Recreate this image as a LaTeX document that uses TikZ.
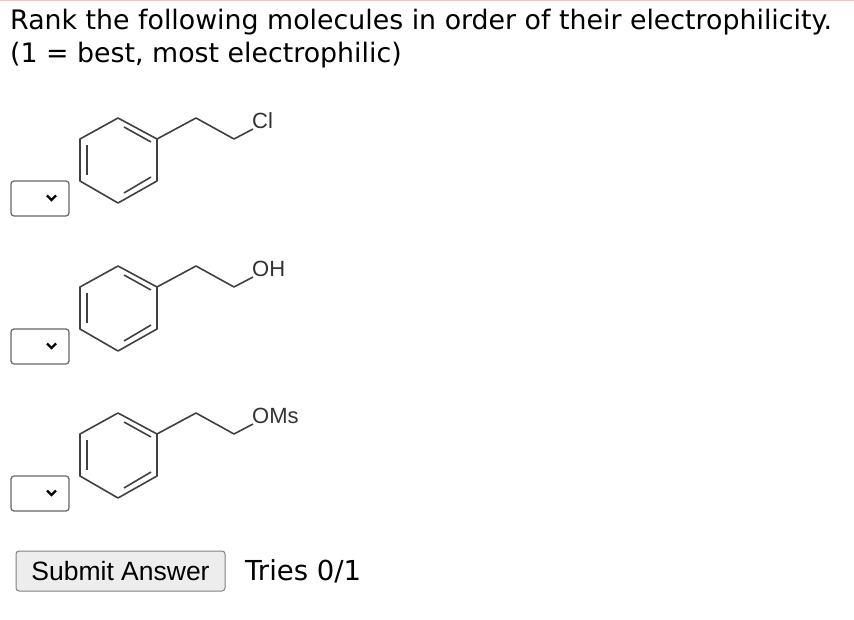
\documentclass[tikz,border=0pt]{standalone}
\usepackage{fontspec}
\setmainfont{Liberation Sans}
\newfontfamily\vfont{DejaVu Sans}
\begin{document}
\begin{tikzpicture}[x=1pt,y=-1pt,
  bond/.style={draw=black!75,line width=1.6pt,line join=round},
  dd/.style={draw=black!60,rounded corners=3pt,line width=1.2pt,minimum width=58pt,minimum height=35pt,inner sep=0pt},
  lbl/.style={font=\fontsize{22}{22}\selectfont,inner sep=0pt,anchor=west,text=black!80}]
\useasboundingbox (0,0) rectangle (854,620);
\draw[red!25,line width=1pt] (0,1) -- (854,1);
\node[anchor=base west,inner sep=0pt,font=\vfont\fontsize{26.8}{26.8}\selectfont] (q1) at (10,30) {Rank the following molecules in order of their electrophilicity.};
\node[anchor=base west,inner sep=0pt,font=\vfont\fontsize{26.8}{26.8}\selectfont] (q2) at (10,63) {(1 = best, most electrophilic)};
\foreach \i/\dy/\lab in {1/0/Cl,2/148/OH,3/295/OMs}{
  \begin{scope}[yshift=-\dy]
  \coordinate (t\i) at (118,118);
  \coordinate (ur\i) at (157,139);
  \coordinate (lr\i) at (157,181);
  \coordinate (b\i) at (118,203);
  \coordinate (ll\i) at (80,181);
  \coordinate (ul\i) at (80,139);
  \path[bond] (t\i) -- (ur\i) -- (lr\i) -- (b\i) -- (ll\i) -- (ul\i) -- cycle;
  \path[bond] (124,127) -- (151,142);
  \path[bond] (151,177) -- (124,193);
  \path[bond] (87,145) -- (87,175);
  \coordinate (c1\i) at (196,118);
  \coordinate (c2\i) at (234,139);
  \node[lbl] (x\i) at (252,121) {\lab};
  \path[bond] (ur\i) -- (c1\i) -- (c2\i) -- (253,129);
  \node[dd] (d\i) at (40,198.5) {};
  \draw[line width=2.2pt] ([xshift=7pt,yshift=3pt]d\i.center) -- ([xshift=11.5pt,yshift=-1.5pt]d\i.center) -- ([xshift=16pt,yshift=3pt]d\i.center);
  \end{scope}
}
\node[draw=black!50,fill=black!7,rounded corners=3pt,line width=1pt,minimum width=209pt,minimum height=40pt,inner sep=0pt,font=\fontsize{26.5}{26.5}\selectfont] (btn) at (120.5,571) {Submit Answer};
\node[anchor=west,inner sep=0pt,font=\vfont\fontsize{27.5}{27.5}\selectfont] (tries) at (245,571) {Tries 0/1};
\end{tikzpicture}
\end{document}
